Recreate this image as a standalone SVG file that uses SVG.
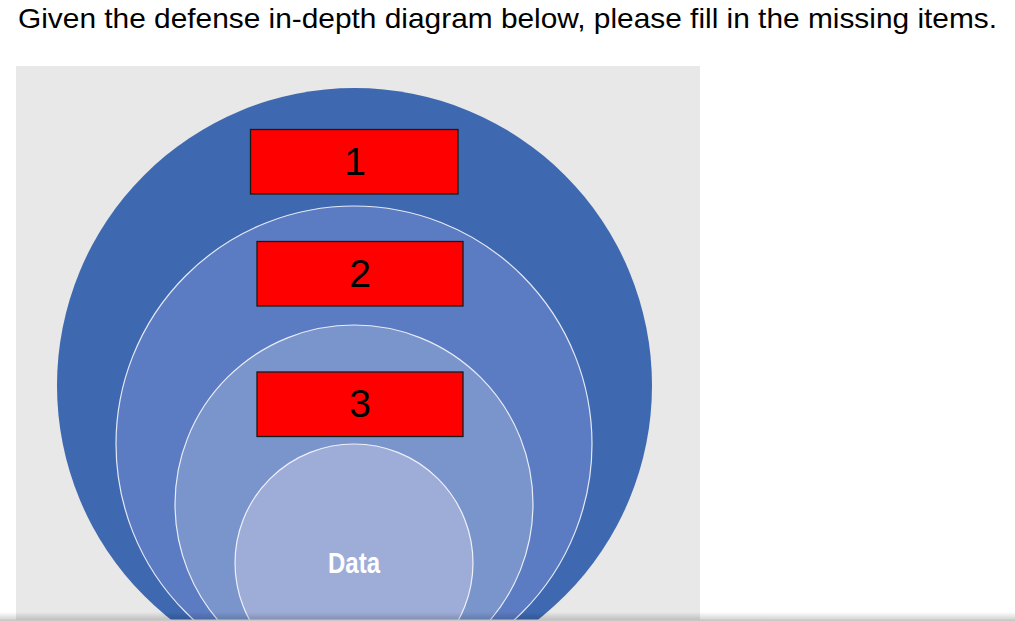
<svg xmlns="http://www.w3.org/2000/svg" width="1015" height="621" viewBox="0 0 1015 621">
  <style>
    .ring { stroke: #ffffff; stroke-opacity: 0.85; stroke-width: 1.2; }
    .box rect { fill: #ff0000; stroke: #1a1a1a; stroke-width: 1.3; }
    .box text { font-family: "Liberation Sans", Arial, sans-serif; font-size: 39px; fill: #000000; text-anchor: middle; }
    .title { font-family: "Liberation Sans", Arial, sans-serif; font-size: 28.5px; fill: #000000; }
    .data { font-family: "Liberation Sans", Arial, sans-serif; font-weight: bold; font-size: 29px; fill: #ffffff; text-anchor: middle; }
  </style>
  <defs>
    <clipPath id="panel">
      <rect x="16" y="66" width="684" height="555"/>
    </clipPath>
    <linearGradient id="shadow" x1="0" y1="0" x2="0" y2="1">
      <stop offset="0" stop-color="#000000" stop-opacity="0"/>
      <stop offset="1" stop-color="#000000" stop-opacity="0.18"/>
    </linearGradient>
  </defs>
  <rect x="0" y="0" width="1015" height="621" fill="#ffffff"/>
  <text class="title" x="18" y="28" textLength="979" lengthAdjust="spacingAndGlyphs">Given the defense in-depth diagram below, please fill in the missing items.</text>
  <rect x="16" y="66" width="684" height="555" fill="#e8e8e8"/>
  <g clip-path="url(#panel)">
    <g id="layer-outer"><circle cx="354.5" cy="385.5" r="297.5" fill="#3e68b0"/></g>
    <g id="layer-2"><circle class="ring" cx="354" cy="444" r="238" fill="#5b7bc2"/></g>
    <g id="layer-3"><circle class="ring" cx="354" cy="504" r="179" fill="#7a94cc"/></g>
    <g id="layer-data"><circle class="ring" cx="354" cy="563" r="119" fill="#9eadd8"/>
      <text class="data" x="354" y="573" textLength="52" lengthAdjust="spacingAndGlyphs">Data</text></g>
  </g>
  <g id="box1" class="box"><rect x="250.5" y="129.5" width="207.5" height="64.5"/><text x="355" y="175">1</text></g>
  <g id="box2" class="box"><rect x="257" y="241.5" width="206" height="64.5"/><text x="360" y="287">2</text></g>
  <g id="box3" class="box"><rect x="257" y="372" width="206" height="64.5"/><text x="360" y="417">3</text></g>
  <g id="connectors"></g>
  <rect x="0" y="612" width="1015" height="8" fill="url(#shadow)"/>
  <rect x="0" y="619.5" width="1015" height="1.5" fill="#c8c8c8"/>
</svg>
